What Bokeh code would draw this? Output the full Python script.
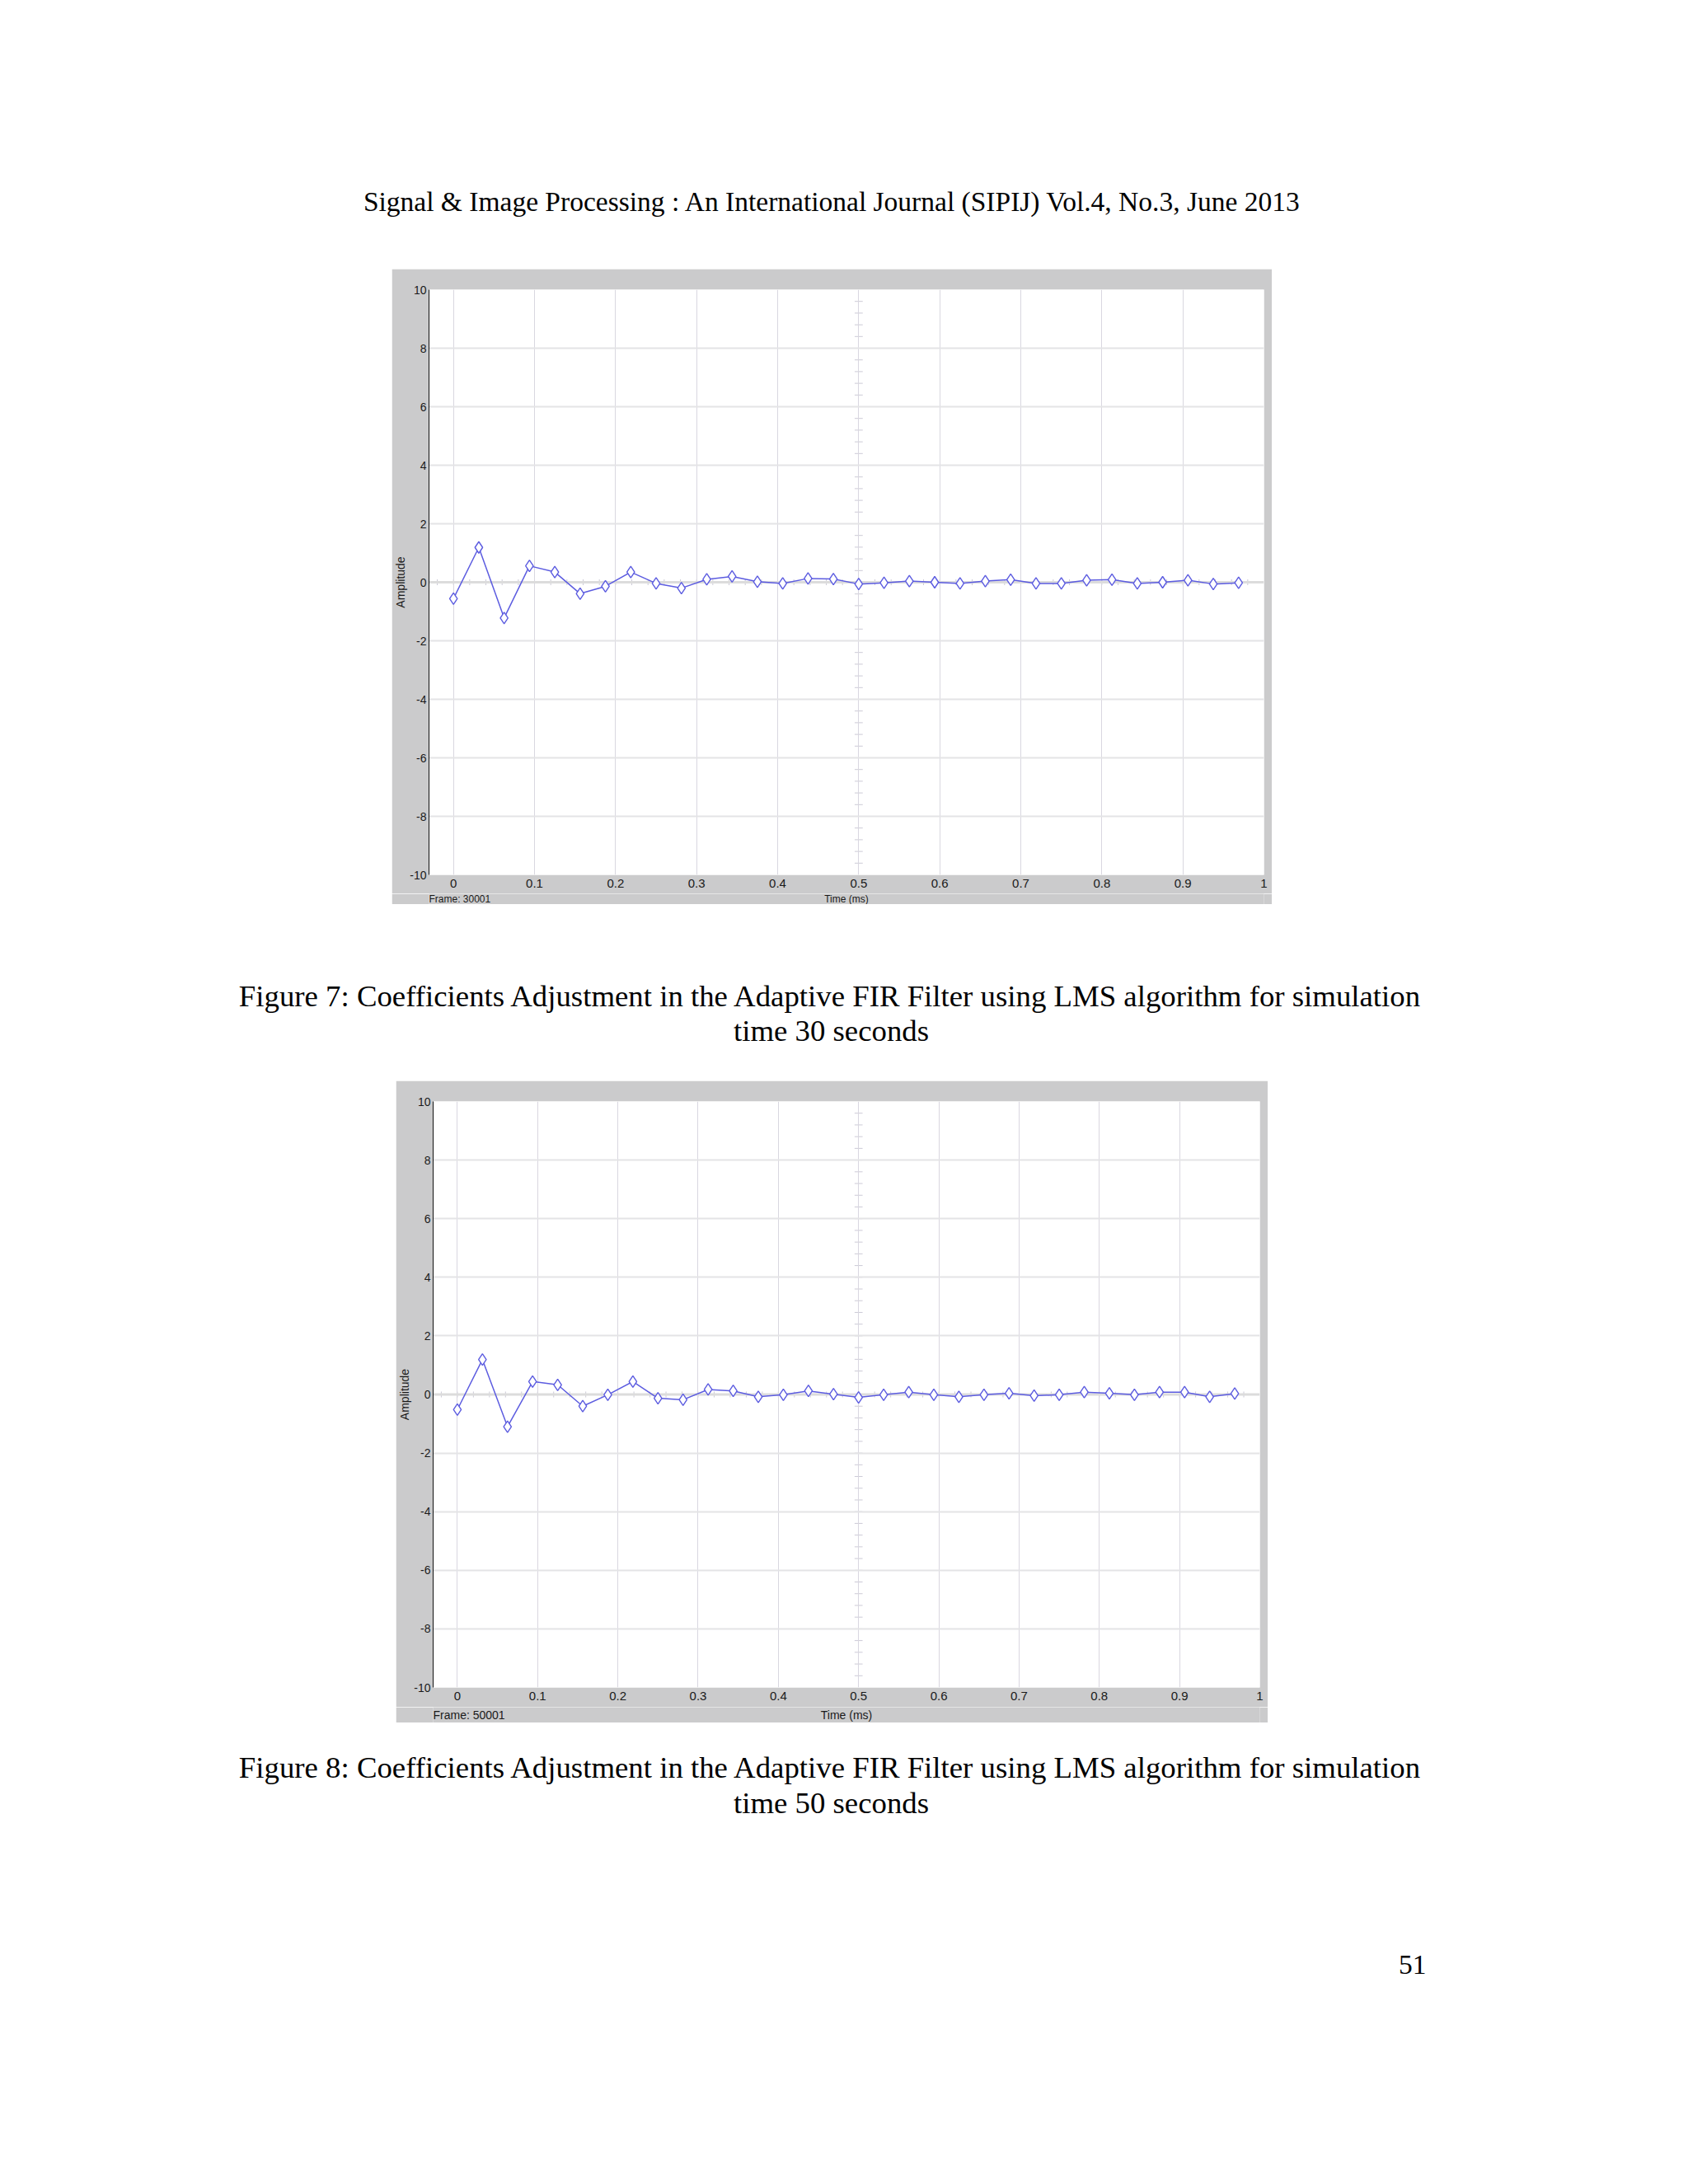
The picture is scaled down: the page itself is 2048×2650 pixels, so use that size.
import numpy as np
from bokeh.plotting import figure
from bokeh.layouts import column, row
from bokeh.models import Range1d, FixedTicker, Span, Spacer
from bokeh.core.properties import value
from bokeh.embed import file_html
from bokeh.resources import INLINE

# ---------------- data ----------------
time_ms = [0.0, 0.03125, 0.0625, 0.09375, 0.125, 0.15625, 0.1875, 0.21875,
           0.25, 0.28125, 0.3125, 0.34375, 0.375, 0.40625, 0.4375, 0.46875,
           0.5, 0.53125, 0.5625, 0.59375, 0.625, 0.65625, 0.6875, 0.71875,
           0.75, 0.78125, 0.8125, 0.84375, 0.875, 0.90625, 0.9375, 0.96875]

coeffs_30s = [-0.56, 1.19, -1.22, 0.56, 0.35, -0.39, -0.14, 0.35,
              -0.04, -0.20, 0.10, 0.20, 0.02, -0.04, 0.13, 0.11,
              -0.06, -0.02, 0.04, 0.00, -0.04, 0.04, 0.09, -0.04,
              -0.04, 0.07, 0.09, -0.04, 0.00, 0.07, -0.06, -0.02]

coeffs_50s = [-0.52, 1.19, -1.10, 0.44, 0.33, -0.40, -0.01, 0.44,
              -0.13, -0.18, 0.17, 0.12, -0.08, -0.01, 0.12, 0.01,
              -0.10, -0.01, 0.08, -0.01, -0.08, -0.01, 0.04, -0.04,
              -0.01, 0.08, 0.04, -0.01, 0.08, 0.08, -0.08, 0.03]

x_ticks = [0, 0.1, 0.2, 0.3, 0.4, 0.5, 0.6, 0.7, 0.8, 0.9, 1]
x_tick_labels = ["0", "0.1", "0.2", "0.3", "0.4", "0.5", "0.6", "0.7", "0.8", "0.9", "1"]
y_ticks = [-10, -8, -6, -4, -2, 0, 2, 4, 6, 8, 10]
y_tick_labels = ["-10", "-8", "-6", "-4", "-2", "0", "2", "4", "6", "8", "10"]

header_text = ["Signal & Image Processing : An International Journal (SIPIJ) Vol.4, No.3, June 2013"]
caption7 = ["Figure 7: Coefficients Adjustment in the Adaptive FIR Filter using LMS algorithm for simulation",
            "time 30 seconds"]
caption8 = ["Figure 8: Coefficients Adjustment in the Adaptive FIR Filter using LMS algorithm for simulation",
            "time 50 seconds"]
page_number = ["51"]
frame_labels = ["Frame: 30001", "Frame: 50001"]
x_axis_title = "Time (ms)"
y_axis_title = "Amplitude"

# ---------------- styles ----------------
GRAY = "#cbcbcc"
LINE = "#5c5ce0"
PAGE_W = 2048
SERIF = value("Liberation Serif")
SANS = "Liberation Sans"
X_START = -0.0302


def make_chart(vals, frame_label, W, H, bl, br, bt, bb, strip_h, tick_standoff, strip_font):
    p = figure(width=W, height=H, x_range=Range1d(X_START, 1.0), y_range=Range1d(-10, 10),
               output_backend="svg", toolbar_location=None,
               min_border_left=bl, min_border_right=br, min_border_top=bt, min_border_bottom=bb,
               background_fill_color="white", border_fill_color=GRAY, outline_line_color=None)
    # grids
    p.xgrid.ticker = FixedTicker(ticks=[t for t in x_ticks if t < 1])
    p.xgrid.grid_line_color = "#d9d7e0"
    p.xgrid.grid_line_width = 1
    p.ygrid.ticker = FixedTicker(ticks=[t for t in y_ticks if t not in (-10, 0, 10)])
    p.ygrid.grid_line_color = "#e4e4e6"
    p.ygrid.grid_line_width = 2
    p.add_layout(Span(location=0, dimension="width", line_color="#dcdcdc", line_width=3, level="underlay"))
    # small tick marks on the centre cross
    hx = np.arange(-0.02, 1.0, 0.02)
    p.segment(x0=hx, x1=hx, y0=-0.1, y1=0.1, line_color="#cccad6", line_width=1, level="underlay")
    vy = np.arange(-9.6, 10, 0.4)
    p.segment(x0=0.495, x1=0.505, y0=vy, y1=vy, line_color="#cccad6", line_width=1, level="underlay")
    # y axis
    p.yaxis.ticker = FixedTicker(ticks=y_ticks)
    p.yaxis.major_label_overrides = {t: s for t, s in zip(y_ticks, y_tick_labels)}
    p.yaxis.major_tick_line_color = None
    p.yaxis.major_tick_out = 0
    p.yaxis.major_tick_in = 0
    p.yaxis.minor_tick_line_color = None
    p.yaxis.minor_tick_out = 0
    p.yaxis.axis_line_color = "#111111"
    p.yaxis.axis_line_width = 1
    p.yaxis.major_label_standoff = 3
    p.yaxis.major_label_text_font = SANS
    p.yaxis.major_label_text_font_size = "14px"
    p.yaxis.major_label_text_color = "#1a1a1a"
    p.yaxis.axis_label = y_axis_title
    p.yaxis.axis_label_text_font = SANS
    p.yaxis.axis_label_text_font_style = "normal"
    p.yaxis.axis_label_text_font_size = "14px"
    p.yaxis.axis_label_text_color = "#1a1a1a"
    p.yaxis.axis_label_standoff = 0
    # x axis
    p.xaxis.ticker = FixedTicker(ticks=x_ticks)
    p.xaxis.major_label_overrides = {t: s for t, s in zip(x_ticks, x_tick_labels)}
    p.xaxis.major_tick_line_color = None
    p.xaxis.major_tick_out = 0
    p.xaxis.major_tick_in = 0
    p.xaxis.minor_tick_line_color = None
    p.xaxis.minor_tick_out = 0
    p.xaxis.axis_line_color = None
    p.xaxis.major_label_standoff = tick_standoff
    p.xaxis.major_label_text_font = SANS
    p.xaxis.major_label_text_font_size = "15px"
    p.xaxis.major_label_text_color = "#1a1a1a"
    # data
    p.line(time_ms, vals, line_color=LINE, line_width=1.5)
    p.scatter(time_ms, vals, marker="diamond", size=14, line_color=LINE, line_width=1.4,
              fill_color="white")

    # gray strip under the chart holding the frame counter and the x-axis title
    s = figure(width=W, height=strip_h, x_range=p.x_range, y_range=Range1d(strip_h, 0),
               output_backend="svg", toolbar_location=None,
               x_axis_location=None, y_axis_location=None,
               min_border_left=bl, min_border_right=br, min_border_top=0, min_border_bottom=0,
               background_fill_color=GRAY, border_fill_color=GRAY, outline_line_color=None)
    s.grid.visible = False
    s.text(x=[X_START], y=[strip_h / 2], text=[frame_label], text_font=value(SANS),
           text_font_size=strip_font, text_align="left", text_baseline="middle", text_color="#1a1a1a")
    s.text(x=[(X_START + 1.0) / 2], y=[strip_h / 2], text=[x_axis_title], text_font=value(SANS),
           text_font_size=strip_font, text_align="center", text_baseline="middle", text_color="#1a1a1a")
    return column(p, s, spacing=0)


def text_block(h, xs, ys, texts, sizes, aligns):
    p = figure(width=PAGE_W, height=h, x_range=Range1d(0, PAGE_W), y_range=Range1d(h, 0),
               output_backend="svg", toolbar_location=None,
               x_axis_location=None, y_axis_location=None,
               min_border=0, outline_line_color=None,
               background_fill_color="white", border_fill_color="white")
    p.grid.visible = False
    for x, y, t, s, a in zip(xs, ys, texts, sizes, aligns):
        p.text(x=[x], y=[y], text=[t], text_font=SERIF, text_font_size=s,
               text_align=a, text_baseline="middle", text_color="black")
    return p


header = text_block(326, [1009.5], [244], header_text, ["33.5px"], ["center"])

chart7 = make_chart(coeffs_30s, frame_labels[0], 1068, 758, 43, 10, 25, 23, 13, 5, "12px")
cap7 = text_block(214, [1008, 1008], [111, 153], caption7, ["36.8px", "36.8px"], ["center", "center"])
chart8 = make_chart(coeffs_50s, frame_labels[1], 1058, 760, 44, 10, 25, 24, 19, 5, "14px")
bottom = text_block(560, [1008, 1008, 1730], [54, 97, 293], caption8 + page_number,
                    ["36.8px", "36.8px", "33.5px"], ["center", "center", "right"])

layout = column(
    header,
    row(Spacer(width=475, height=771), chart7, spacing=0),
    cap7,
    row(Spacer(width=480, height=779), chart8, spacing=0),
    bottom,
    spacing=0,
)

open("out.html", "w").write(file_html(layout, INLINE))
